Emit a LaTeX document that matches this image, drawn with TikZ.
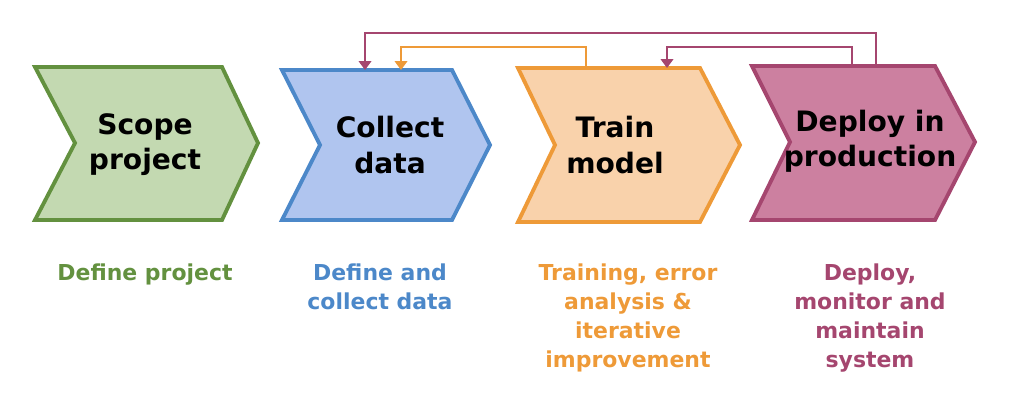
\documentclass[tikz,border=0pt]{standalone}
\usepackage{fontspec}
\setmainfont{DejaVu Sans}
\usetikzlibrary{arrows.meta}
\definecolor{grnF}{HTML}{C3D9B1}\definecolor{grnD}{HTML}{63913F}
\definecolor{bluF}{HTML}{B0C5EF}\definecolor{bluD}{HTML}{4C88C9}
\definecolor{orgF}{HTML}{F9D2AB}\definecolor{orgD}{HTML}{EE9A38}
\definecolor{magF}{HTML}{CC80A0}\definecolor{magD}{HTML}{A5466F}
\begin{document}
\begin{tikzpicture}[x=0.02cm,y=-0.02cm,
  stage/.style={line width=2.2pt,line join=miter},
  title/.style={font=\bfseries\fontsize{16}{20}\selectfont,align=center},
  caption/.style={font=\bfseries\fontsize{12.5}{16.5}\selectfont,align=center,anchor=north},
  loop/.style={line width=1.6pt,-{Triangle[width=7pt,length=5pt]}}]
  \useasboundingbox (0,0) rectangle (1013,402);

  % chevrons
  \draw[stage,draw=grnD,fill=grnF] (35,67) -- (222,67) -- (258,143) -- (222,220) -- (35,220) -- (75,143) -- cycle;
  \draw[stage,draw=bluD,fill=bluF] (282,70) -- (452,70) -- (490,145) -- (452,220) -- (282,220) -- (320,145) -- cycle;
  \draw[stage,draw=orgD,fill=orgF] (518,68) -- (700,68) -- (740,145) -- (700,222) -- (518,222) -- (555,145) -- cycle;
  \draw[stage,draw=magD,fill=magF] (752,66) -- (935,66) -- (975,142) -- (935,220) -- (752,220) -- (790,142) -- cycle;

  \node[title] (scope) at (145,145) {Scope\\project};
  \node[title] (collect) at (390,145) {Collect\\data};
  \node[title] (train) at (615,145) {Train\\model};
  \node[title] (deploy) at (870,141) {Deploy in\\production};

  \node[caption,text=grnD] (c1) at (145,258) {Define project};
  \node[caption,text=bluD] (c2) at (380,258) {Define and\\collect data};
  \node[caption,text=orgD] (c3) at (628,258) {Training, error\\analysis \&\\iterative\\improvement};
  \node[caption,text=magD] (c4) at (870,258) {Deploy,\\monitor and\\maintain\\system};

  % feedback loops
  \coordinate (d1) at (876,66); \coordinate (a1) at (365,70);
  \coordinate (d2) at (852,66); \coordinate (a2) at (667,68);
  \coordinate (t1) at (586,68); \coordinate (a3) at (401,70);
  \draw[loop,magD] (d1) |- (365,33) -- (a1);
  \draw[loop,magD] (d2) |- (667,47) -- (a2);
  \draw[loop,orgD] (t1) |- (401,47) -- (a3);
\end{tikzpicture}
\end{document}
